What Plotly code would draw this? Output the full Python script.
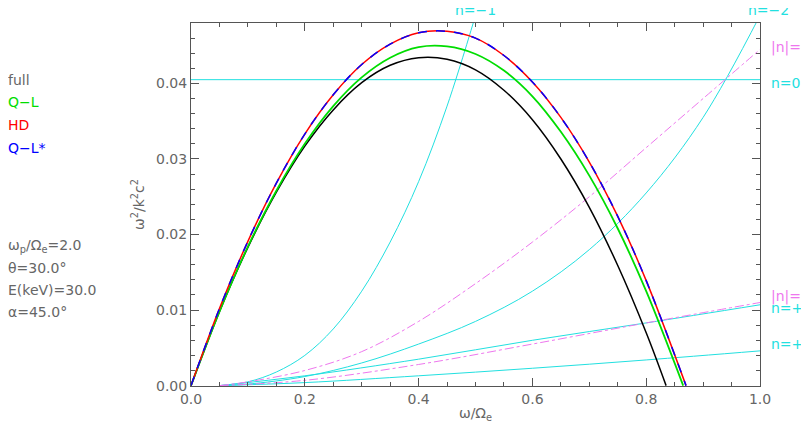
import plotly.graph_objects as go

xb = [0,0.05,0.1,0.15,0.2,0.25,0.3,0.35,0.4,0.45,0.5,0.55,0.6,0.65,0.7,0.75,0.8,0.835]
full = [0,0.0098,0.0183,0.0256,0.0317,0.0365,0.0401,0.0424,0.0434,0.0432,0.0418,0.0391,0.0352,0.0300,0.0236,0.0159,0.0070,0]
xg = [0,0.05,0.1,0.15,0.2,0.25,0.3,0.35,0.4,0.45,0.5,0.55,0.6,0.65,0.7,0.75,0.8,0.865]
ql = [0,0.0098,0.0184,0.0258,0.0320,0.0370,0.0408,0.0434,0.0448,0.0449,0.0439,0.0417,0.0383,0.0336,0.0278,0.0208,0.0125,0]
xr = [0,0.05,0.1,0.15,0.2,0.25,0.3,0.35,0.4,0.45,0.5,0.55,0.6,0.65,0.7,0.75,0.8,0.87]
hd = [0,0.0102,0.0191,0.0268,0.0333,0.0385,0.0425,0.0452,0.0467,0.0469,0.0460,0.0437,0.0402,0.0355,0.0296,0.0224,0.0139,0]
xm1 = [0.05,0.1,0.15,0.2,0.25,0.3,0.35,0.4,0.45,0.5]
nm1 = [0,0.0005,0.0018,0.004,0.0075,0.0125,0.019,0.027,0.037,0.049]
xm2 = [0.05,0.1,0.2,0.3,0.4,0.5,0.6,0.7,0.8,0.9,1.0]
nm2 = [0,0.0002,0.0012,0.003,0.0055,0.0085,0.0125,0.018,0.0255,0.0355,0.049]
n0 = 0.0405
xl = [0.05,0.2,0.4,0.6,0.8,1.0]
np1 = [0,0.0013,0.0035,0.006,0.0083,0.0107]
np2 = [0,0.0004,0.0013,0.0023,0.0034,0.0046]
xa1 = [0.05,0.1,0.2,0.3,0.4,0.5,0.6,0.7,0.8,0.9,1.0]
a1 = [0,0.0005,0.002,0.0045,0.0085,0.0135,0.019,0.025,0.0315,0.038,0.0445]
a2 = [0,0.0007,0.0028,0.0055,0.0083,0.011]

YMIN, YMAX = -0.00005, 0.048
cy = "#22e0e0"; mg = "#ee77ee"
fig = go.Figure()
def ln(x, y, c, dash="solid", w=1.2):
    fig.add_trace(go.Scatter(x=x, y=y, mode="lines", line=dict(color=c, width=w, dash=dash, shape="spline", smoothing=1),
                             showlegend=False, cliponaxis=True))
ln(xm1, nm1, cy, w=1); ln(xm2, nm2, cy, w=1); ln([0, 1], [n0, n0], cy, w=1)
ln(xl, np1, cy, w=1); ln(xl, np2, cy, w=1)
ln(xa1, a1, mg, "dashdot", 1); ln(xl, a2, mg, "dashdot", 1)
ln(xb, full, "black", w=1.5); ln(xg, ql, "#00dd00", w=1.8)
ln(xr, hd, "red", w=1.5); ln(xr, hd, "blue", "dash", 1.5)

FS = 14
f = dict(family="DejaVu Sans", size=FS, color="#666")
def py(v):
    return (v - YMIN) / (YMAX - YMIN)
def txt(x, yv, t, c, xa="left"):
    fig.add_annotation(x=x, y=py(yv), xref="paper", yref="paper", text=t, showarrow=False,
                       xanchor=xa, yanchor="middle", font=dict(family="DejaVu Sans", size=FS, color=c))
txt(0.5, 0.0497, "n=−1", cy, xa="center")
txt(0.975, 0.0497, "n=−2", cy)
txt(1.015, 0.0448, "|n|=1", mg)
txt(1.015, 0.0400, "n=0", cy)
txt(1.015, 0.0118, "|n|=2", mg)
txt(1.015, 0.0103, "n=+1", cy)
txt(1.015, 0.0055, "n=+2", cy)
for i, (t, c) in enumerate([("full", "#666"), ("Q−L", "#00dd00"), ("HD", "red"), ("Q−L*", "blue")]):
    txt(-0.325, 0.0405 - i*0.003, t, c)
for i, t in enumerate(["ω<sub>p</sub>/Ω<sub>e</sub>=2.0", "θ=30.0°", "E(keV)=30.0", "α=45.0°"]):
    txt(-0.325, 0.0185 - i*0.0029, t, "#666")

ax = dict(showgrid=False, zeroline=False, showline=True, linecolor="#555", mirror="ticks",
          ticks="inside", ticklen=8, tickcolor="#555", tickfont=f,
          minor=dict(ticks="inside", ticklen=4, tickcolor="#555"))
fig.update_xaxes(range=[0, 1], dtick=0.2, tickformat=".1f", minor_dtick=0.05,
                 title=dict(text="ω/Ω<sub>e</sub>", font=f, standoff=2), **ax)
fig.update_yaxes(range=[YMIN, YMAX], tickvals=[0, 0.01, 0.02, 0.03, 0.04], tickformat=".2f",
                 minor_dtick=0.002, title=dict(text="ω<sup>2</sup>/k<sup>2</sup>c<sup>2</sup>", font=f, standoff=8), **ax)
fig.update_layout(width=809, height=423, margin=dict(l=183, r=57, t=15, b=28),
                  plot_bgcolor="white", paper_bgcolor="white")
fig.write_html("out.html")
